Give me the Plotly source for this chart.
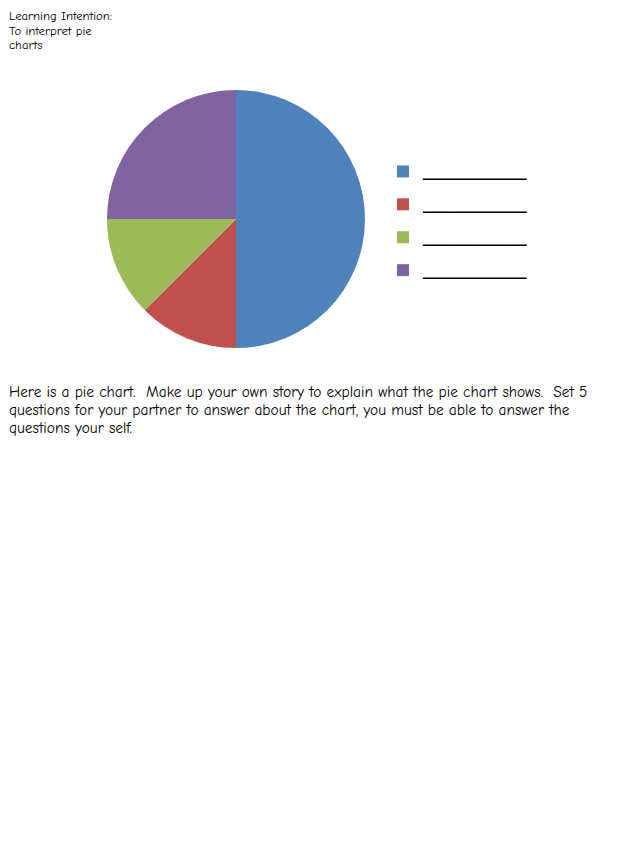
import plotly.graph_objects as go

# slices, clockwise from 12 o'clock (the picture has no category names)
slice_values = [50, 12.5, 12.5, 25]
slice_colors = ["#4F81BD", "#C0504D", "#9BBB59", "#8064A2"]
blank_line = "_" * 9
# legend shows only blank lines to fill in; zero-width spaces keep labels unique,
# baseline-shift lifts the line up next to the colour square
slice_labels = [
    '<span style="baseline-shift:5px">' + blank_line + "\u200b" * i + "</span>"
    for i in range(len(slice_values))
]

heading_lines = ["Learning Intention:", "To interpret pie", "charts"]
task_lines = [
    "Here is a pie chart.\u00a0 Make up your own story to explain what the pie chart shows.\u00a0 Set 5",
    "questions for your partner to answer about the chart, you must be able to answer the",
    "questions your self.",
]

W, H = 638, 851
OFF = 8  # page body margin pushes the plot 8px right/down
text_font = "Comic Sans MS, Comic Neue, Liberation Sans, sans-serif"


def px_x(x):
    return (x - OFF) / W


def px_y(y):
    return 1 - (y - OFF) / H


fig = go.Figure(go.Pie(
    labels=slice_labels,
    values=slice_values,
    sort=False,
    direction="clockwise",
    rotation=0,
    marker=dict(colors=slice_colors, line=dict(width=0)),
    textinfo="none",
    hoverinfo="percent",
    domain=dict(x=[px_x(107), px_x(365)], y=[px_y(348), px_y(90)]),
))

annotations = []
for i, line in enumerate(heading_lines):
    annotations.append(dict(
        text=line, x=px_x(9), y=px_y(16 + 14.5 * i), xref="paper", yref="paper",
        xanchor="left", yanchor="middle", align="left", showarrow=False,
        borderpad=0, borderwidth=0,
        font=dict(family=text_font, size=12.7, color="black")))
for i, line in enumerate(task_lines):
    annotations.append(dict(
        text=line, x=px_x(9), y=px_y(392 + 18 * i), xref="paper", yref="paper",
        xanchor="left", yanchor="middle", align="left", showarrow=False,
        borderpad=0, borderwidth=0,
        font=dict(family=text_font, size=15.4, color="black")))

fig.update_layout(
    width=W, height=H,
    margin=dict(l=0, r=0, t=0, b=0),
    paper_bgcolor="white",
    plot_bgcolor="white",
    showlegend=True,
    legend=dict(
        x=375 / W, y=1 - 142 / H, xanchor="left", yanchor="top",
        font=dict(family="DejaVu Sans", size=23, color="black"),
        bgcolor="rgba(0,0,0,0)",
    ),
    annotations=annotations,
)

fig.write_html("out.html")
